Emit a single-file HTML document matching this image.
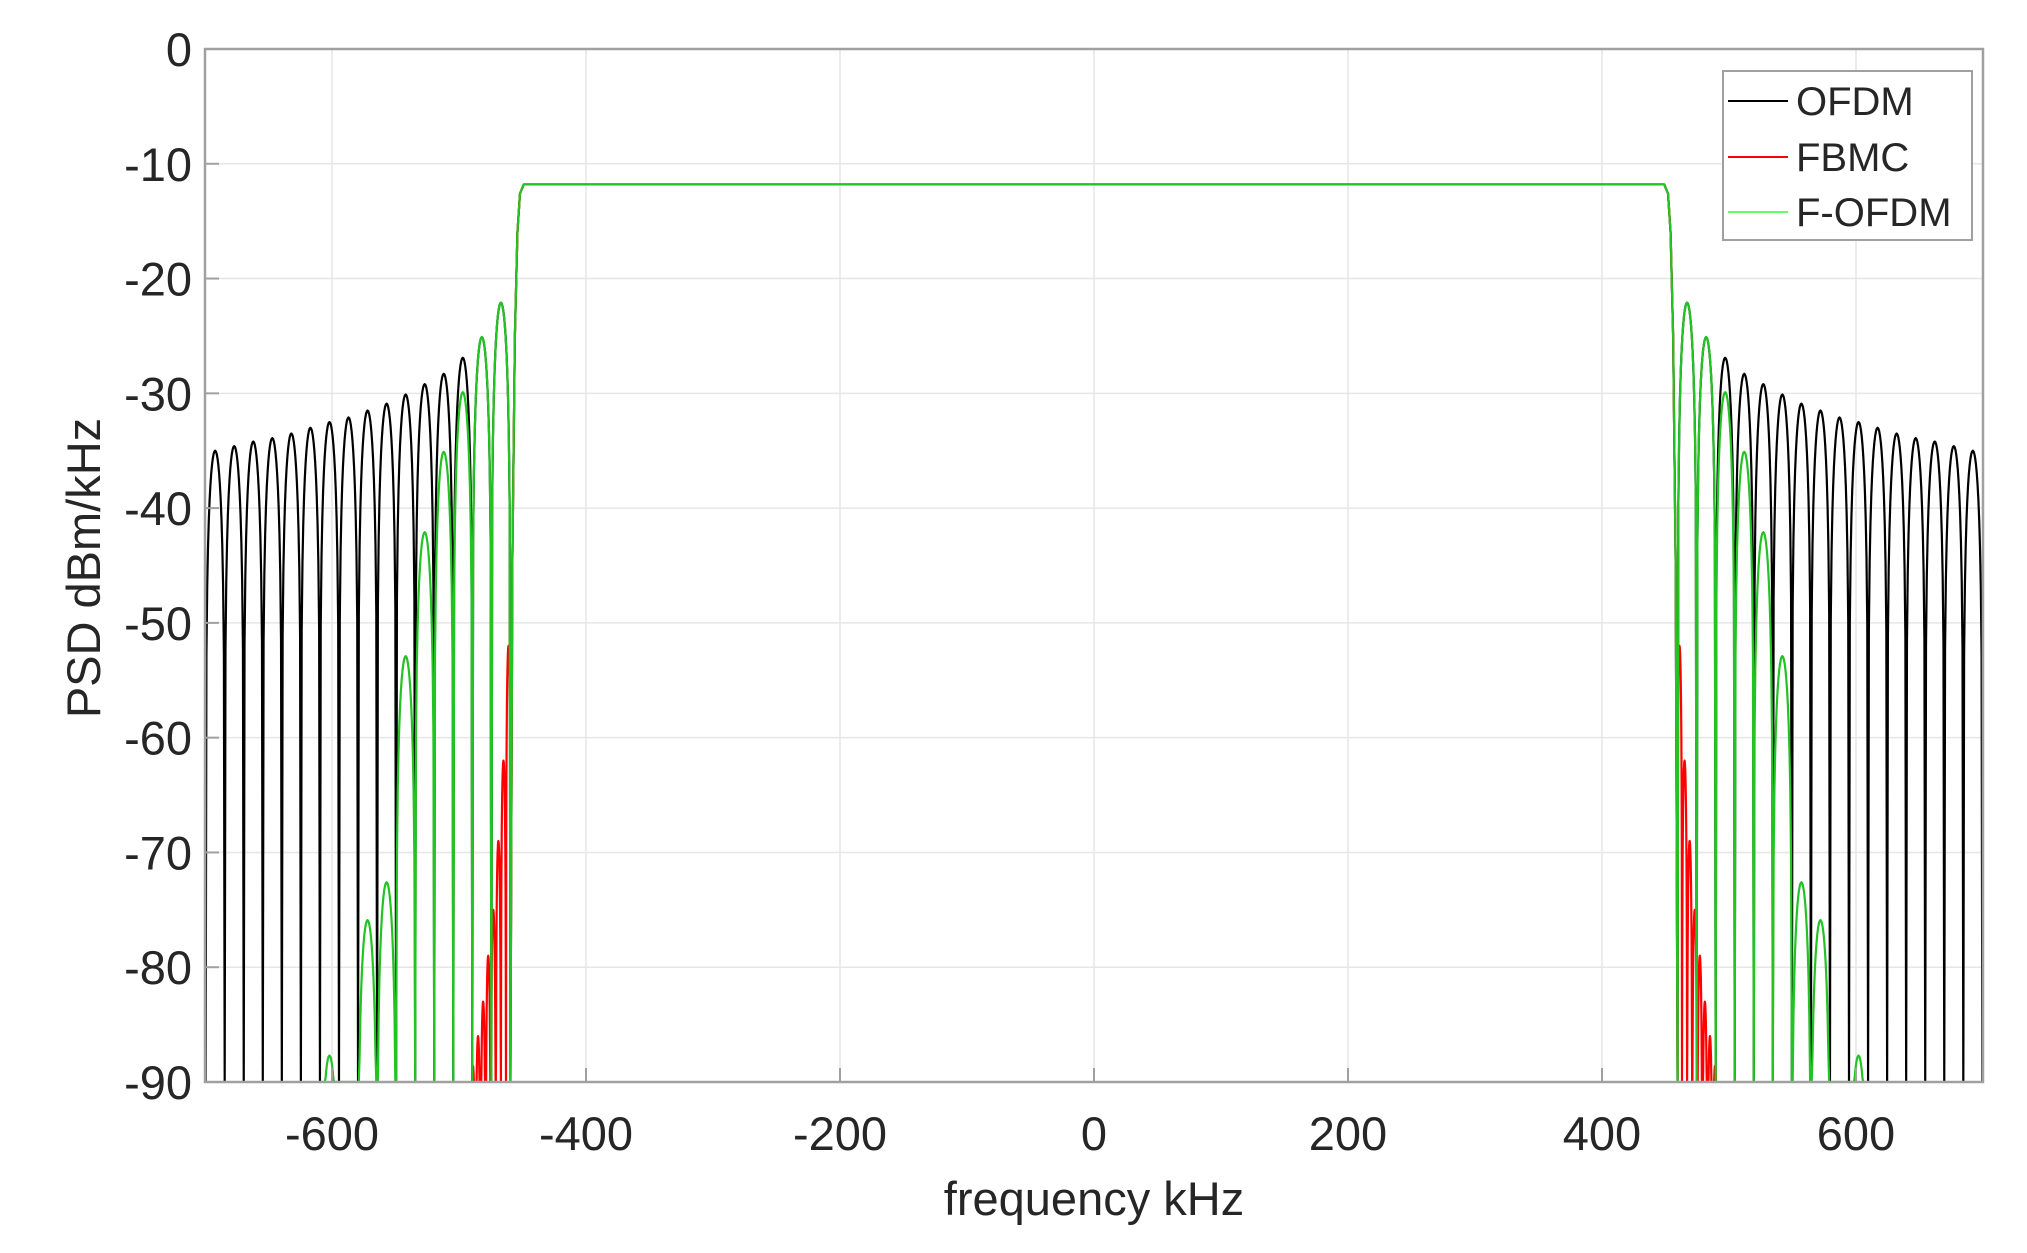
<!DOCTYPE html>
<html><head><meta charset="utf-8"><style>
html,body{margin:0;padding:0;background:#fff;}
svg{display:block;font-family:"Liberation Sans",sans-serif;}
</style></head><body>
<svg id="chart" width="2027" height="1253" viewBox="0 0 2027 1253">
  <g id="grid"></g>
  <g id="series"></g>
  <g id="axes"></g>
  <text x="1094" y="1215" font-size="47" text-anchor="middle" fill="#262626">frequency kHz</text>
  <text x="0" y="0" font-size="47" text-anchor="middle" fill="#262626" transform="translate(100,568) rotate(-90)">PSD dBm/kHz</text>
  <g>
    <rect x="1723" y="71" width="249" height="169" fill="#fff" stroke="#a0a0a0" stroke-width="2"/>
    <g><line x1="1728" y1="101" x2="1788" y2="101" stroke="#000" stroke-width="2"/><text x="1796" y="115" font-size="40" fill="#262626">OFDM</text></g>
    <g><line x1="1728" y1="157" x2="1788" y2="157" stroke="#ff0000" stroke-width="2"/><text x="1796" y="171" font-size="40" fill="#262626">FBMC</text></g>
    <g><line x1="1728" y1="212" x2="1788" y2="212" stroke="#66ff66" stroke-width="2"/><text x="1796" y="226" font-size="40" fill="#262626">F-OFDM</text></g>
  </g>
</svg>
<script>
// ---- data ----
const xTicks = [-600,-400,-200,0,200,400,600];
const yTicks = [0,-10,-20,-30,-40,-50,-60,-70,-80,-90];
const passLevel = -11.8;
// OFDM sidelobes (left side, inner -> outer), mirrored on right
const ofdmCenters = [-467,-482,-497,-512,-527,-542,-557,-572,-587,-602,-617,-632,-647,-662,-677,-692,-707];
const ofdmPeaks = [-22.1,-25.1,-26.9,-28.3,-29.2,-30.1,-30.9,-31.5,-32.1,-32.5,-33.0,-33.5,-33.9,-34.2,-34.6,-35.0,-35.3];
// F-OFDM sidelobes
const fofdmCenters = [-467,-482,-497,-512,-527,-542,-557,-572,-587,-602];
const fofdmPeaks = [-22.1,-25.1,-29.9,-35.1,-42.1,-52.9,-72.6,-75.9,-95,-87.7];
// FBMC sidelobes
const fbmcCenters = [-461,-465,-469,-473,-477,-481,-485,-489];
const fbmcPeaks = [-52,-62,-69,-75,-79,-83,-86,-88.6];
// band edge transition (freq, dB) for left side
const edgeF = [-459.5,-458,-456,-454,-452,-449];
const edgeDb = [-90,-45,-25,-16,-12.6,-11.8];

// ---- axes ----
const X0=205,X1=1983,Y0=49,Y1=1082;
const xs = f => X0+(f+700)/1400*(X1-X0);
const ys = d => Y0+(0-Math.max(-90,Math.min(0,d)))/90*(Y1-Y0);
const NS="http://www.w3.org/2000/svg";
function mk(tag,attrs,parent){const e=document.createElementNS(NS,tag);for(const k in attrs)e.setAttribute(k,attrs[k]);parent.appendChild(e);return e;}
const grid=document.getElementById('grid'),axes=document.getElementById('axes'),series=document.getElementById('series');
mk('rect',{x:X0,y:Y0,width:X1-X0,height:Y1-Y0,fill:'#fff'},grid);
xTicks.forEach(t=>{
  const l=mk('line',{x1:xs(t),x2:xs(t),y1:Y0,y2:Y1,stroke:'#e6e6e6','stroke-width':1.5},grid);
  
  
  const tk=mk('line',{x1:xs(t),x2:xs(t),y1:Y1,y2:Y1-14,stroke:'#a0a0a0','stroke-width':2},axes);
  
  
  const tx=mk('text',{x:xs(t),y:1150,'font-size':47,'text-anchor':'middle',fill:'#262626'},axes);
  tx.textContent=t;
  
  
});
yTicks.forEach(t=>{
  const l=mk('line',{x1:X0,x2:X1,y1:ys(t),y2:ys(t),stroke:'#e6e6e6','stroke-width':1.5},grid);
  
  
  const tk=mk('line',{x1:X0,x2:X0+14,y1:ys(t),y2:ys(t),stroke:'#a0a0a0','stroke-width':2},axes);
  
  
  const tx=mk('text',{x:192,y:ys(t)+17,'font-size':47,'text-anchor':'end',fill:'#262626'},axes);
  tx.textContent=t;
  
  
});
const box=mk('rect',{x:X0,y:Y0,width:X1-X0,height:Y1-Y0,fill:'none',stroke:'#a0a0a0','stroke-width':2.5},axes);



// ---- series builder ----
function lobePts(centers,peaks,hw){
  const pts=[];
  for(let i=centers.length-1;i>=0;i--){
    const c=centers[i],p=peaks[i];
    for(let k=0;k<=24;k++){
      const t=k/24, f=c-hw+2*hw*t;
      const s=Math.abs(Math.sin(Math.PI*t));
      pts.push([f, s<1e-4?-200:p+20*Math.log10(s)]);
    }
  }
  return pts;
}
function fullPts(centers,peaks,hw){
  let left=lobePts(centers,peaks,hw).filter(p=>p[0]<=edgeF[0]+0.01);
  for(let i=0;i<edgeF.length;i++) left.push([edgeF[i],edgeDb[i]]);
  left.push([-440,passLevel]);
  const right=left.slice().reverse().map(p=>[-p[0],p[1]]);
  return left.concat(right);
}
function draw(pts,color,w,name){
  const d=pts.filter(p=>p[0]>=-700&&p[0]<=700).map((p,i)=>(i?'L':'M')+xs(p[0]).toFixed(2)+' '+ys(p[1]).toFixed(2)).join('');
  const path=mk('path',{d:d,fill:'none',stroke:color,'stroke-width':w,'stroke-linejoin':'round'},series);
  
  
}
const cp=document.createElementNS(NS,'clipPath');cp.id='clip';
mk('rect',{x:X0,y:Y0,width:X1-X0,height:Y1-Y0},cp);document.getElementById('chart').prepend(cp);
series.setAttribute('clip-path','url(#clip)');
draw(fullPts(ofdmCenters,ofdmPeaks,7.5),'#000',2.2,'ofdm-line');
draw(fullPts(fbmcCenters,fbmcPeaks,2),'#ff0000',2.2,'fbmc-line');
draw(fullPts(fofdmCenters,fofdmPeaks,7.5),'#22c322',2.2,'f-ofdm-line');
</script>
</body></html>
